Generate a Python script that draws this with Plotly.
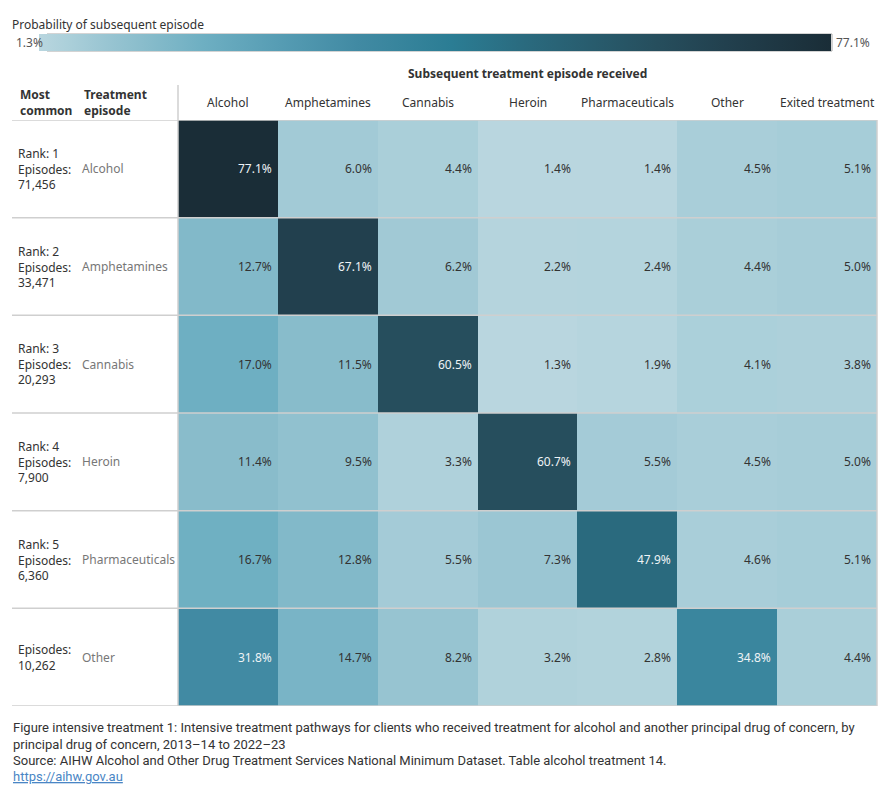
import plotly.graph_objects as go

# ---- data ----
subsequent = ["Alcohol", "Amphetamines", "Cannabis", "Heroin", "Pharmaceuticals", "Other", "Exited treatment"]
treatment = ["Alcohol", "Amphetamines", "Cannabis", "Heroin", "Pharmaceuticals", "Other"]
ranks = ["Rank: 1", "Rank: 2", "Rank: 3", "Rank: 4", "Rank: 5", ""]
episodes = ["71,456", "33,471", "20,293", "7,900", "6,360", "10,262"]

row_alcohol = [77.1, 6.0, 4.4, 1.4, 1.4, 4.5, 5.1]
row_amphet = [12.7, 67.1, 6.2, 2.2, 2.4, 4.4, 5.0]
row_cannabis = [17.0, 11.5, 60.5, 1.3, 1.9, 4.1, 3.8]
row_heroin = [11.4, 9.5, 3.3, 60.7, 5.5, 4.5, 5.0]
row_pharma = [16.7, 12.8, 5.5, 7.3, 47.9, 4.6, 5.1]
row_other = [31.8, 14.7, 8.2, 3.2, 2.8, 34.8, 4.4]
z = [row_alcohol, row_amphet, row_cannabis, row_heroin, row_pharma, row_other]

zmin, zmax = 1.3, 77.1

# ---- layout constants (pixels, page has an 8px body margin) ----
OFF = 8
W, H = 890 - 2 * OFF, 800 - 2 * OFF
ML, MR, MT, MB = 178 - OFF, 890 - 877 - OFF, 120 - OFF, 800 - 706 - OFF
PW = W - ML - MR
PH = H - MT - MB

def px_x(p):
    return (p - OFF - ML) / PW

def px_y(p):
    return 1 - (p - OFF - MT) / PH

colorscale = [
    [0.0, "#b9d6df"],
    [0.035, "#acd0da"],
    [0.08, "#9bc6d3"],
    [0.135, "#88bccb"],
    [0.207, "#6eafc2"],
    [0.30, "#579db4"],
    [0.402, "#418aa3"],
    [0.442, "#3a869e"],
    [0.52, "#2b7d94"],
    [0.615, "#2a6a7e"],
    [0.781, "#264e5d"],
    [0.868, "#22404e"],
    [1.0, "#1a2d37"],
]

font_family = "Noto Sans, Lato, sans-serif"

fig = go.Figure(go.Heatmap(
    z=z,
    x=list(range(len(subsequent))),
    y=list(range(len(treatment))),
    zmin=zmin, zmax=zmax,
    colorscale=colorscale,
    hoverinfo="skip",
    colorbar=dict(
        orientation="h",
        xref="container", yref="container",
        x=(47 - OFF) / W, xanchor="left",
        y=1 - (34 - OFF) / H, yanchor="top",
        len=792, lenmode="pixels",
        thickness=17,
        xpad=0, ypad=0,
        outlinewidth=0,
        showticklabels=False, ticks="",
    ),
))

annotations = []
# cell labels
for i, row in enumerate(z):
    for j, v in enumerate(row):
        annotations.append(dict(
            x=j + 0.5, y=i, xref="x", yref="y",
            text=f"{v:.1f}%", showarrow=False,
            xanchor="right", yanchor="middle", xshift=-4,
            font=dict(size=12, family=font_family,
                      color="#eef3f5" if v >= 30 else "#333333"),
        ))

# column headers
for j, name in enumerate(subsequent):
    annotations.append(dict(
        x=j, y=1, xref="x", yref="paper", yshift=18,
        text=name, showarrow=False, xanchor="center", yanchor="middle",
        font=dict(size=12, family=font_family, color="#333333"),
    ))

annotations.append(dict(
    x=px_x(527), y=px_y(74), xref="paper", yref="paper",
    text="<b>Subsequent treatment episode received</b>", showarrow=False,
    xanchor="center", yanchor="middle",
    font=dict(size=12, family=font_family, color="#333333"),
))
annotations.append(dict(
    x=px_x(18), y=px_y(102), xref="paper", yref="paper",
    text="<b>Most<br>common</b>", showarrow=False, align="left",
    xanchor="left", yanchor="middle",
    font=dict(size=12, family=font_family, color="#333333"),
))
annotations.append(dict(
    x=px_x(82), y=px_y(102), xref="paper", yref="paper",
    text="<b>Treatment<br>episode</b>", showarrow=False, align="left",
    xanchor="left", yanchor="middle",
    font=dict(size=12, family=font_family, color="#333333"),
))

# row labels
for i, name in enumerate(treatment):
    left = (ranks[i] + "<br>" if ranks[i] else "") + "Episodes:<br>" + episodes[i]
    annotations.append(dict(
        x=px_x(16), y=i, xref="paper", yref="y",
        text=left, showarrow=False, align="left",
        xanchor="left", yanchor="middle",
        font=dict(size=12, family=font_family, color="#333333"),
    ))
    annotations.append(dict(
        x=px_x(80), y=i, xref="paper", yref="y",
        text=name, showarrow=False, align="left",
        xanchor="left", yanchor="middle",
        font=dict(size=12, family=font_family, color="#777777"),
    ))

# legend
annotations.append(dict(
    x=px_x(10), y=px_y(24), xref="paper", yref="paper",
    text="Probability of subsequent episode", showarrow=False,
    xanchor="left", yanchor="middle",
    font=dict(size=12, family=font_family, color="#333333"),
))
annotations.append(dict(
    x=px_x(45), y=px_y(43), xref="paper", yref="paper",
    text=f"{zmin}%", showarrow=False, xanchor="right", yanchor="middle",
    font=dict(size=12, family=font_family, color="#555555"),
))
annotations.append(dict(
    x=px_x(834), y=px_y(43), xref="paper", yref="paper",
    text=f"{zmax}%", showarrow=False, xanchor="left", yanchor="middle",
    font=dict(size=12, family=font_family, color="#555555"),
))

# footer
foot_family = "Roboto, sans-serif"
footer = [
    (727, "Figure intensive treatment 1: Intensive treatment pathways for clients who received treatment for alcohol and another principal drug of concern, by"),
    (744, "principal drug of concern, 2013–14 to 2022–23"),
    (760, "Source: AIHW Alcohol and Other Drug Treatment Services National Minimum Dataset. Table alcohol treatment 14."),
]
for yy, t in footer:
    annotations.append(dict(
        x=px_x(11), y=px_y(yy), xref="paper", yref="paper",
        text=t, showarrow=False, xanchor="left", yanchor="middle",
        font=dict(size=13, family=foot_family, color="#333333"),
    ))
annotations.append(dict(
    x=px_x(11), y=px_y(776), xref="paper", yref="paper",
    text="<u>https://aihw.gov.au</u>", showarrow=False, xanchor="left", yanchor="middle",
    font=dict(size=13, family=foot_family, color="#4a86c5"),
))

# grid lines
shapes = []
line = dict(color="#cfcfcf", width=1.5)
for k in range(len(treatment) + 1):
    shapes.append(dict(type="line", xref="paper", yref="y",
                       x0=px_x(12), x1=1, y0=k - 0.5, y1=k - 0.5, line=line))
shapes.append(dict(type="line", xref="paper", yref="paper",
                   x0=0, x1=0, y0=0, y1=px_y(85), line=line))
shapes.append(dict(type="line", xref="paper", yref="paper",
                   x0=1, x1=1, y0=0, y1=1, line=line))
# legend bar outline
shapes.append(dict(type="rect", xref="paper", yref="paper",
                   x0=px_x(47), x1=px_x(832), y0=px_y(51), y1=px_y(34),
                   line=dict(color="#a8a8a8", width=1), fillcolor="rgba(0,0,0,0)"))

fig.update_layout(
    width=W, height=H,
    margin=dict(l=ML, r=MR, t=MT, b=MB, pad=0),
    paper_bgcolor="white", plot_bgcolor="white",
    xaxis=dict(visible=False, range=[-0.5, 6.5], fixedrange=True),
    yaxis=dict(visible=False, range=[5.5, -0.5], fixedrange=True),
    annotations=annotations,
    shapes=shapes,
    font=dict(family=font_family),
)

fig.write_html("out.html")
